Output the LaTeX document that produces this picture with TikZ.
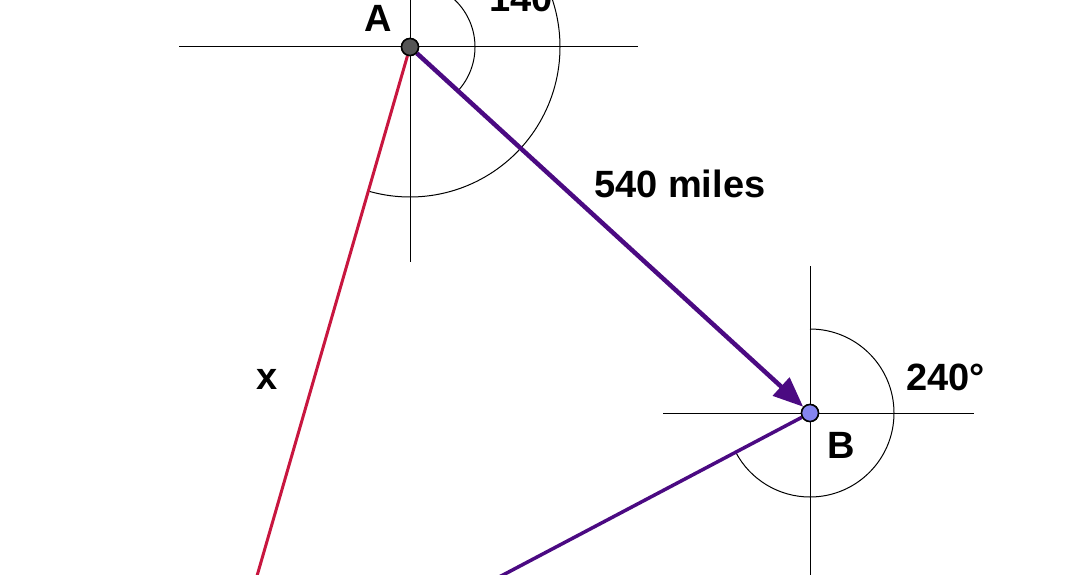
\documentclass[tikz,border=0pt]{standalone}
\usepackage{fontspec}
\setmainfont{Liberation Sans}
\usetikzlibrary{arrows.meta}
\definecolor{route}{HTML}{4B0A82}
\definecolor{xline}{HTML}{C8163F}
\definecolor{ptA}{HTML}{555555}
\definecolor{ptB}{HTML}{8585F0}

\begin{document}
\begin{tikzpicture}[x=1pt,y=1pt,
  pt/.style = {draw, circle, inner sep=0pt, minimum size=17pt, line width=1.5pt},
  axis/.style = {draw, line width=1pt},
  lbl/.style = {font=\fontsize{38}{40}\selectfont\bfseries, inner sep=0pt, anchor=base west}]
\useasboundingbox (0,0) rectangle (1092,574);
\clip (0,0) rectangle (1092,574);
\node[pt] (A) [fill=ptA] at (410,527) {};
\node[pt] (B) [fill=ptB] at (810,161) {};
\coordinate (C) at (213,-154);
\draw[axis] ([xshift=-231pt]A.center) -- ([xshift=228pt]A.center);
\draw[axis] ([yshift=60pt]A.center) -- ([yshift=-215pt]A.center);
\draw[axis] ([xshift=-147pt]B.center) -- ([xshift=164pt]B.center);
\draw[axis] ([yshift=147pt]B.center) -- ([yshift=-180pt]B.center);
\draw[axis] (A.center) ++(90:65) arc[start angle=90, end angle=-42.5, radius=65];
\draw[axis] (A.center) ++(90:150) arc[start angle=90, end angle=-106.1, radius=150];
\draw[axis] (B.center) ++(90:84) arc[start angle=90, end angle=-152.2, radius=84];
\draw[xline, line width=3pt] (A) -- (C);
\draw[route, line width=3.5pt] (B) -- (C);
\draw[route, line width=4.5pt, -{Triangle[length=30pt,width=24pt]}] (A) -- (B);
\node[pt] at (A) [fill=ptA] {};
\node[pt] at (B) [fill=ptB] {};
\node[lbl] (labA) at (364,542) {A};
\node[lbl] (lab140) at (489,562) {140°};
\node[lbl] (labdist) at (594,376) {540 miles};
\node[lbl] (lab240) at (906,184) {240°};
\node[lbl] (labB) at (827,116) {B};
\node[lbl] (labx) at (256,185) {x};
\end{tikzpicture}
\end{document}
